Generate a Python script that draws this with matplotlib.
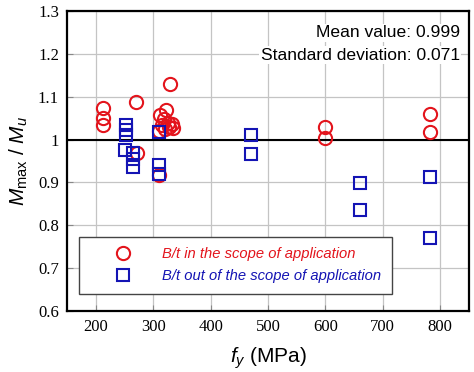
import matplotlib
matplotlib.use("Agg")
import matplotlib.pyplot as plt

plt.rcParams["mathtext.fontset"] = "custom"
plt.rcParams["mathtext.rm"] = "Liberation Sans"
plt.rcParams["mathtext.it"] = "Liberation Sans:italic"

# B/t in the scope of application (red circles)
fy_in = [212, 212, 212, 270, 272, 329, 312, 318, 322, 325, 328, 332, 334, 315, 320,
         310, 310, 600, 600, 782, 782]
ratio_in = [1.075, 1.050, 1.035, 1.088, 0.970, 1.130, 1.058, 1.048, 1.070, 1.040,
            1.030, 1.036, 1.028, 1.035, 1.025, 1.020, 0.917, 1.030, 1.004, 1.060, 1.017]

# B/t out of the scope of application (blue squares)
fy_out = [253, 253, 253, 250, 265, 265, 265, 310, 310, 310, 471, 471, 661, 661, 782, 782]
ratio_out = [1.035, 1.022, 1.010, 0.976, 0.970, 0.955, 0.937, 1.019, 0.941, 0.920,
             1.011, 0.966, 0.898, 0.836, 0.913, 0.771]

mean_val = 0.999
std_val = 0.071

RED = "#e3141c"
BLUE = "#1414b4"

fig = plt.figure(figsize=(4.74, 3.72), dpi=100)
ax = fig.add_axes([0.142, 0.164, 0.847, 0.806])

ax.set_axisbelow(True)
ax.grid(True, color="#c4c4c4", lw=0.9)
ax.axhline(1.0, color="black", lw=1.5, zorder=2)

ax.plot(fy_in, ratio_in, "o", ms=9.5, mfc="none", mec=RED, mew=1.5,
        label="B/t in the scope of application", zorder=3)
ax.plot(fy_out, ratio_out, "s", ms=8, mfc="none", mec=BLUE, mew=1.5,
        label="B/t out of the scope of application", zorder=3)

ax.set_xlim(150, 850)
ax.set_ylim(0.6, 1.3)
ax.set_xticks(range(200, 801, 100))
ax.set_yticks([0.6, 0.7, 0.8, 0.9, 1.0, 1.1, 1.2, 1.3])
ax.set_yticklabels(["0.6", "0.7", "0.8", "0.9", "1", "1.1", "1.2", "1.3"])
for lab in ax.get_xticklabels() + ax.get_yticklabels():
    lab.set_fontfamily("Liberation Serif")
    lab.set_fontsize(12)
ax.tick_params(direction="in", length=4, width=0.8, color="#888888", pad=6)
for sp in ax.spines.values():
    sp.set_linewidth(1.6)

ax.set_xlabel("$f_y$ (MPa)", fontsize=15, fontfamily="Liberation Sans", labelpad=7)
ax.set_ylabel("$M_{\\mathrm{max}}$ / $M_u$", fontsize=15, fontfamily="Liberation Sans",
              labelpad=6)

box = dict(facecolor="white", edgecolor="none", pad=1)
ax.text(0.978, 0.928, f"Mean value: {mean_val:.3f}", transform=ax.transAxes,
        ha="right", va="center", fontsize=12.6, fontfamily="Liberation Sans", bbox=box)
ax.text(0.978, 0.853, f"Standard deviation: {std_val:.3f}", transform=ax.transAxes,
        ha="right", va="center", fontsize=12.6, fontfamily="Liberation Sans", bbox=box)

leg = ax.legend(loc="lower left", bbox_to_anchor=(0.029, 0.057, 0.779, 0.196),
                mode="expand", fancybox=False, framealpha=1, edgecolor="#444444",
                prop={"family": "Liberation Sans", "style": "italic", "size": 10.6},
                handlelength=4.5, handletextpad=0.45, borderpad=0.72, labelspacing=0.55,
                borderaxespad=0)
leg.get_frame().set_linewidth(1.0)
for txt, c in zip(leg.get_texts(), [RED, BLUE]):
    txt.set_color(c)

fig.savefig("out.png", dpi=100)
